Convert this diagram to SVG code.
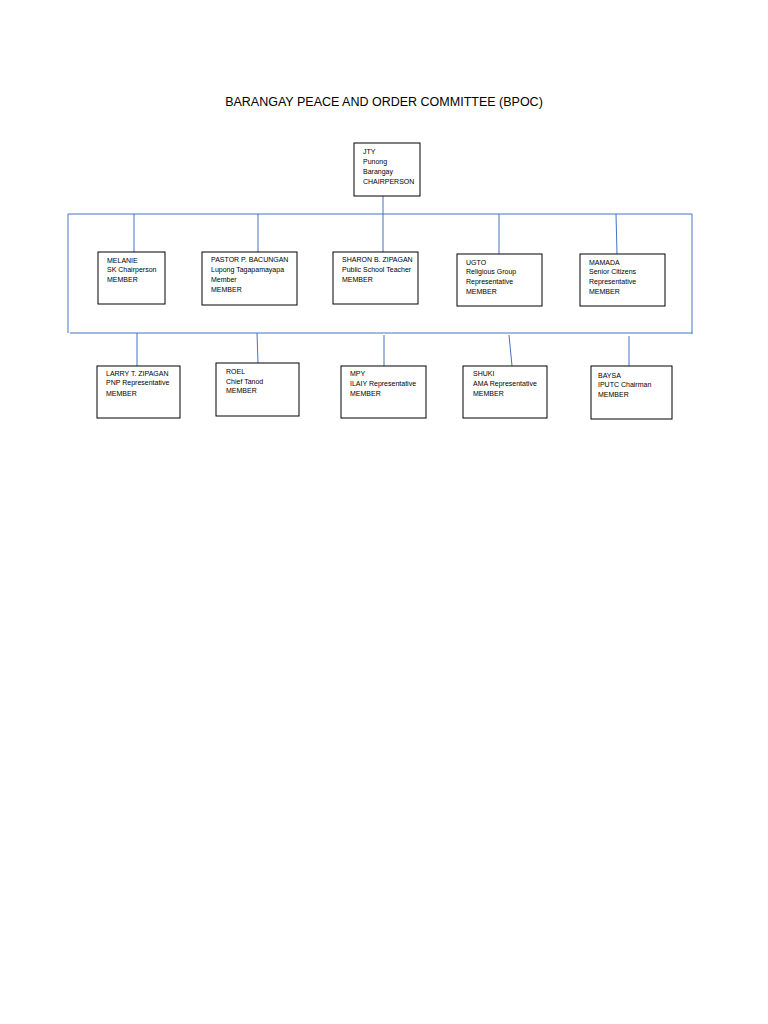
<svg xmlns="http://www.w3.org/2000/svg" width="768" height="1024" viewBox="0 0 768 1024">
<style>
.box{fill:#fff;stroke:#000;stroke-width:1}
.t{font-family:"Liberation Sans",Arial,sans-serif;font-size:7px;fill:#000}
.title{font-family:"Liberation Sans",Arial,sans-serif;font-size:12.5px;fill:#000}
.c{stroke:#4472c4;stroke-width:1;fill:none}
</style>
<rect width="768" height="1024" fill="#fff"/>
<text class="title" x="384" y="106" text-anchor="middle">BARANGAY PEACE AND ORDER COMMITTEE (BPOC)</text>
<g id="connectors">
<path class="c" d="M68,214 H692 M68,214 V333 M692,214 V334 M70,333 H692"/>
<path class="c" d="M383,196 V252 M134,214 V252 M258,214 V252 M499,214 V254 M616,214 L617,254"/>
<path class="c" d="M137,333 V366 M257,333 L258,363 M384,335 V366 M509,335 L512,366 M629,336 V366"/>
</g>
<g id="jty"><rect class="box" x="354" y="143" width="66" height="53"/><text class="t" x="363" y="154">JTY</text><text class="t" x="363" y="164">Punong</text><text class="t" x="363" y="174">Barangay</text><text class="t" x="363" y="184">CHAIRPERSON</text></g>
<g id="melanie"><rect class="box" x="98" y="252" width="67" height="52"/><text class="t" x="107" y="263">MELANIE</text><text class="t" x="107" y="272">SK Chairperson</text><text class="t" x="107" y="282">MEMBER</text></g>
<g id="pastor"><rect class="box" x="202" y="252" width="95" height="53"/><text class="t" x="211" y="262">PASTOR P. BACUNGAN</text><text class="t" x="211" y="272">Lupong Tagapamayapa</text><text class="t" x="211" y="282">Member</text><text class="t" x="211" y="292">MEMBER</text></g>
<g id="sharon"><rect class="box" x="333" y="252" width="85" height="52"/><text class="t" x="342" y="262">SHARON B. ZIPAGAN</text><text class="t" x="342" y="272">Public School Teacher</text><text class="t" x="342" y="282">MEMBER</text></g>
<g id="ugto"><rect class="box" x="457" y="254" width="85" height="52"/><text class="t" x="466" y="265">UGTO</text><text class="t" x="466" y="274">Religious Group</text><text class="t" x="466" y="284">Representative</text><text class="t" x="466" y="294">MEMBER</text></g>
<g id="mamada"><rect class="box" x="580" y="254" width="85" height="52"/><text class="t" x="589" y="265">MAMADA</text><text class="t" x="589" y="274">Senior Citizens</text><text class="t" x="589" y="284">Representative</text><text class="t" x="589" y="294">MEMBER</text></g>
<g id="larry"><rect class="box" x="97" y="366" width="83" height="52"/><text class="t" x="106" y="376">LARRY T. ZIPAGAN</text><text class="t" x="106" y="385">PNP Representative</text><text class="t" x="106" y="396">MEMBER</text></g>
<g id="roel"><rect class="box" x="216" y="363" width="83" height="53"/><text class="t" x="226" y="374">ROEL</text><text class="t" x="226" y="384">Chief Tanod</text><text class="t" x="226" y="393">MEMBER</text></g>
<g id="mpy"><rect class="box" x="341" y="366" width="85" height="52"/><text class="t" x="350" y="376">MPY</text><text class="t" x="350" y="386">ILAIY Representative</text><text class="t" x="350" y="396">MEMBER</text></g>
<g id="shuki"><rect class="box" x="463" y="366" width="84" height="52"/><text class="t" x="473" y="376">SHUKI</text><text class="t" x="473" y="386">AMA Representative</text><text class="t" x="473" y="396">MEMBER</text></g>
<g id="baysa"><rect class="box" x="591" y="366" width="81" height="53"/><text class="t" x="598" y="378">BAYSA</text><text class="t" x="598" y="387">IPUTC Chairman</text><text class="t" x="598" y="397">MEMBER</text></g>
</svg>
